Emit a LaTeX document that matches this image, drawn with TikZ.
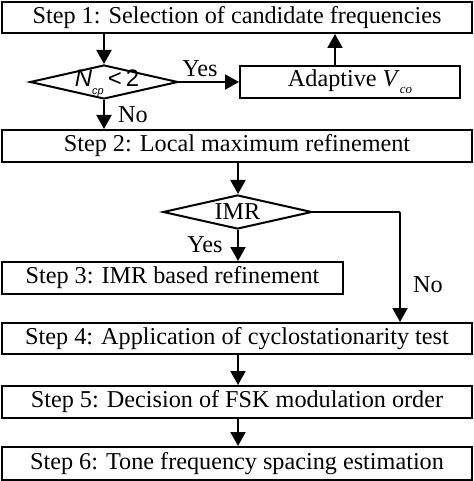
\documentclass[tikz,border=0pt]{standalone}
\usepackage{fontspec}
\setmainfont{Liberation Serif}
\newfontfamily\arialfont{Liberation Sans}
\usetikzlibrary{shapes.geometric,arrows.meta}
\begin{document}
\begin{tikzpicture}[x=1bp,y=-1bp,
  font=\fontsize{24.3}{26}\selectfont,
  stepbox/.style={draw,line width=2bp,rectangle,inner sep=0,minimum height=31bp},
  decision/.style={draw,line width=2bp,diamond,inner sep=0,aspect=4.4,minimum width=148bp,minimum height=34bp},
  arr/.style={line width=2bp,-{Triangle[length=14bp,width=15bp]}},
  ln/.style={line width=2bp}]
\useasboundingbox (0,0) rectangle (474,481);
\node[stepbox,minimum width=470bp] (s1) at (237,17.5) {Step 1: Selection of candidate frequencies};
\node[decision] (d1) at (104,82) {};
\node at (107,83) (d1t) {{\arialfont\itshape\fontsize{24}{24}\selectfont N}\raisebox{-0.7ex}{\arialfont\itshape\fontsize{11}{11}\selectfont cp}\,{\arialfont\fontsize{24}{24}\selectfont <\,2}};
\node[stepbox,minimum width=220bp,minimum height=32bp] (ad) at (350,82) {Adaptive \textit{V}\raisebox{-0.6ex}{\fontsize{13}{13}\selectfont\textit{co}}};
\node[stepbox,minimum width=470bp,minimum height=32bp] (s2) at (237,146) {Step 2: Local maximum refinement};
\node[decision,minimum width=149bp] (d2) at (237.5,212) {};
\node at (d2.center) (d2t) {IMR};
\node[stepbox,minimum width=341bp,minimum height=32bp] (s3) at (172.5,278) {Step 3: IMR based refinement};
\node[stepbox,minimum width=470bp] (s4) at (237,338.5) {Step 4: Application of cyclostationarity test};
\node[stepbox,minimum width=470bp,minimum height=32bp] (s5) at (237,402) {Step 5: Decision of FSK modulation order};
\node[stepbox,minimum width=470bp,minimum height=33bp] (s6) at (237,463.5) {Step 6: Tone frequency spacing estimation};

\draw[arr] (s1.south -| d1.north) -- (d1.north);
\draw[arr] (d1.east) -- (ad.west);
\draw[arr] (ad.north -| 335,0) -- (s1.south -| 335,0);
\draw[arr] (d1.south) -- (s2.north -| d1.south);
\draw[arr] (s2.south -| 238,0) -- (d2.north -| 238,0);
\draw[arr] (d2.south -| 238,0) -- (s3.north -| 238,0);
\coordinate (c1) at (400,212);
\draw[ln] (d2.east) -- (c1);
\draw[arr] (c1) -- (s4.north -| c1);
\draw[arr] (s4.south -| 238,0) -- (s5.north -| 238,0);
\draw[arr] (s5.south -| 238,0) -- (s6.north -| 238,0);

\node (y1) at (200,69) {Yes};
\node (n1) at (133,115) {No};
\node (y2) at (205,245) {Yes};
\node (n2) at (428,285) {No};
\end{tikzpicture}
\end{document}
